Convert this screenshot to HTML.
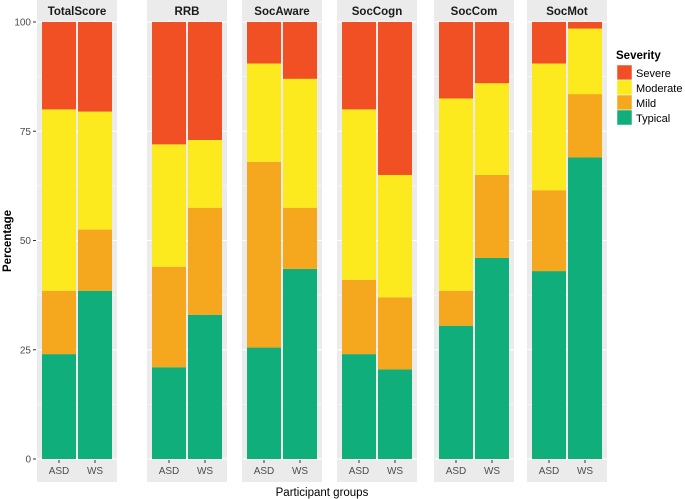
<!DOCTYPE html>
<html><head><meta charset="utf-8"><style>
body{margin:0;background:#fff;}
svg{display:block;font-family:"Liberation Sans",Arial,sans-serif;}
</style></head><body>
<svg id="chart" width="685" height="499" viewBox="0 0 685 499"></svg>
<script>
const panels=["TotalScore","RRB","SocAware","SocCogn","SocCom","SocMot"];
const groups=["ASD","WS"];
const severities=["Typical","Mild","Moderate","Severe"];
// segment sizes per panel: [ASD, WS] (percent)
const typical=[[24,38.5],[21,33],[25.5,43.5],[24,20.5],[30.5,46],[43,69]];
const mild=[[14.5,14],[23,24.5],[42.5,14],[17,16.5],[8,19],[18.5,14.5]];
const moderate=[[41.5,27],[28,15.5],[22.5,29.5],[39,28],[44,21],[29,15]];
const severe=[[20,20.5],[28,27],[9.5,13],[20,35],[17.5,14],[9.5,1.5]];
const yTicks=[0,25,50,75,100];
const colors={Typical:"#10AE7B",Mild:"#F5A81E",Moderate:"#FCEA1E",Severe:"#F05023"};
const panelX=[37,147,242,337,434,527];
const PW=80, Y0=459, Y100=22;
const ns="http://www.w3.org/2000/svg";
const svg=document.getElementById("chart");
function y(v){return Y0-(v/100)*(Y0-Y100);}
function mk(tag,attrs,parent){const e=document.createElementNS(ns,tag);for(const k in attrs)e.setAttribute(k,attrs[k]);(parent||svg).appendChild(e);return e;}
const series=[typical,mild,moderate,severe];
panels.forEach((p,i)=>{
  const x0=panelX[i];
  const g=mk("g",{});
  
  
  const bg=mk("rect",{x:x0,y:Y100-2,width:PW,height:Y0-Y100+4,fill:"#EBEBEB"},g);
  
  
  for(let v=0;v<=100;v+=12.5){mk("line",{x1:x0,x2:x0+PW,y1:y(v),y2:y(v),stroke:"#fff","stroke-width":v%25===0?1.1:0.5},g);}
  const barX=[x0+5,x0+41], bw=34;
  barX.forEach(bx=>mk("line",{x1:bx+bw/2,x2:bx+bw/2,y1:Y100-2,y2:Y0+2,stroke:"#fff","stroke-width":1.1},g));
  const st=mk("rect",{x:x0,y:0,width:PW,height:20,fill:"#EBEBEB"},g);
  
  
  const t=mk("text",{x:x0+PW/2,y:15,"text-anchor":"middle","font-size":"11.5","font-weight":"bold",fill:"#1a1a1a"},g);
  t.textContent=p;
  
  
  const bs=mk("rect",{x:x0,y:461,width:PW,height:21,fill:"#EBEBEB"},g);
  
  
  groups.forEach((gr,j)=>{
    let cum=0;
    series.forEach((s,k)=>{
      const v=s[i][j];
      const r=mk("rect",{x:barX[j],y:y(cum+v),width:bw,height:y(cum)-y(cum+v),fill:colors[severities[k]]},g);
      
      
      cum+=v;
    });
    const cx=barX[j]+bw/2;
    mk("line",{x1:cx,x2:cx,y1:Y0+1,y2:Y0+4,stroke:"#333","stroke-width":1},g);
    const tl=mk("text",{x:cx,y:474,"text-anchor":"middle","font-size":"10",fill:"#4d4d4d"},g);
    tl.textContent=gr;
    
    
  });
});
yTicks.forEach(v=>{
  mk("line",{x1:33,x2:36,y1:y(v),y2:y(v),stroke:"#333","stroke-width":1});
  const t=mk("text",{x:31,y:y(v)+3.5,"text-anchor":"end","font-size":"10",fill:"#4d4d4d"});
  t.textContent=v;
  
  
});
const yt=mk("text",{x:0,y:0,transform:"translate(11,241) rotate(-90)","text-anchor":"middle","font-size":"11.5","font-weight":"bold",fill:"#000"});
yt.textContent="Percentage";


const xt=mk("text",{x:322,y:496,"text-anchor":"middle","font-size":"11.5",fill:"#000"});
xt.textContent="Participant groups";


const lg=mk("g",{});


const lt=mk("text",{x:616,y:59,"font-size":"11.5","font-weight":"bold",fill:"#000"},lg);
lt.textContent="Severity";


["Severe","Moderate","Mild","Typical"].forEach((s,k)=>{
  const r=mk("rect",{x:617,y:65+k*15,width:15,height:15,fill:colors[s],stroke:"#fff","stroke-width":0.5},lg);
  
  
  const t=mk("text",{x:636,y:77+k*15,"font-size":"11",fill:"#000"},lg);
  t.textContent=s;
  
  
});
</script>
</body></html>
